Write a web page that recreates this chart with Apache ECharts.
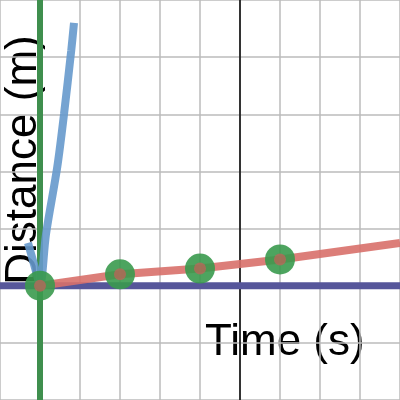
<!DOCTYPE html><html><head><script src="https://cdn.jsdelivr.net/npm/echarts@6/dist/echarts.min.js"></script>
<style>html,body{margin:0;background:#fff;overflow:hidden}#c{width:400px;height:400px}</style></head><body><div id="c"></div><script>
const redLine=[[0,0],[2,0.2],[4,0.3],[6,0.46],[9,0.75]];
const pts=[[0,0],[2,0.2],[4,0.3],[6,0.46]];
const blueCurve=[[-0.3,0.75],[-0.1,0.25],[0,0],[0.15,0.9],[0.43,2.07],[0.6,3.0],[0.78,4.11],[0.85,4.6]];
const greenV=[[0,-3],[0,6]];
const purpleH=[[-2,0],[10,0]];
const blackV=[[5,-3],[5,6]];
const c=echarts.init(document.getElementById('c'));
c.setOption({animation:false,
grid:{left:-37,right:-53,top:-65,bottom:-49},
xAxis:{type:'value',min:-1,max:9,interval:1,axisLine:{show:false},axisTick:{show:false},axisLabel:{show:false},splitLine:{lineStyle:{color:'#bbb',width:1.5}}},
yAxis:{type:'value',min:-2,max:5,interval:1,axisLine:{show:false},axisTick:{show:false},axisLabel:{show:false},splitLine:{lineStyle:{color:'#bbb',width:1.5}}},
series:[
{type:'line',data:blackV,symbol:'none',lineStyle:{color:'#000',width:1.5}},
{type:'line',data:greenV,symbol:'none',lineStyle:{color:'#3f8f4e',width:6}},
{type:'line',data:purpleH,symbol:'none',lineStyle:{color:'#56569a',width:7}},
{type:'line',data:redLine,symbol:'none',lineStyle:{color:'#d8706a',width:8,opacity:0.9}},
{type:'line',data:blueCurve,symbol:'none',smooth:0.3,lineStyle:{color:'#6699cc',width:8,opacity:0.9}},
{type:'scatter',data:pts,symbolSize:30,itemStyle:{color:'#3a9a4e',opacity:0.9},z:5},
{type:'scatter',data:pts,symbolSize:12,itemStyle:{color:'#c8605a',opacity:0.7},z:6}
],
graphic:[
{type:'text',left:205,top:305,style:{text:'Time (s)',font:'44px "Liberation Sans", Arial',fill:'#000'}},
{type:'text',x:62,y:160,rotation:Math.PI/2,style:{text:'Distance (m)',font:'44px "Liberation Sans", Arial',fill:'#000',align:'center',verticalAlign:'bottom'}}
]});
</script></body></html>
